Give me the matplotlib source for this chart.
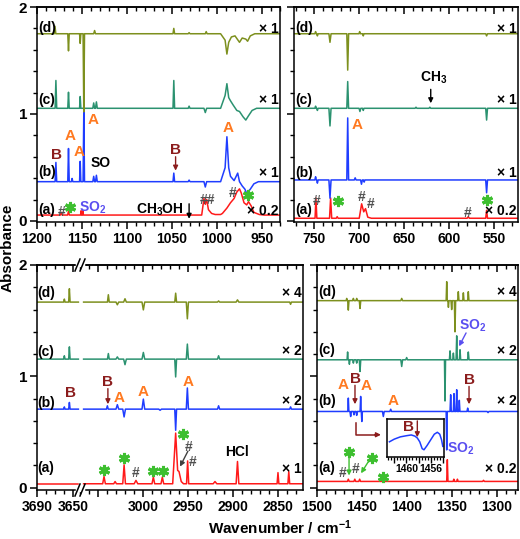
import matplotlib
matplotlib.use("Agg")
import matplotlib.pyplot as plt
from matplotlib.ticker import MultipleLocator, FixedLocator, FuncFormatter
from matplotlib.lines import Line2D

plt.rcParams.update({
    "font.family": ["Liberation Sans", "DejaVu Sans"],
    "font.weight": "bold",
    "font.size": 9,
    "mathtext.fontset": "custom",
    "mathtext.rm": "Liberation Sans:bold",
    "mathtext.it": "Liberation Sans:bold",
    "mathtext.bf": "Liberation Sans:bold",
    "axes.linewidth": 1.1,
})

# ── colours ──────────────────────────────────────────────────
RED, BLUE, TEAL, OLIVE = "#ff1a1a", "#1f3dff", "#2b9270", "#7d901e"
TRACE_COLORS = [RED, BLUE, TEAL, OLIVE]          # (a) (b) (c) (d)
ORANGE, DKRED, GREEN, GRAY, SO2C = "#ff7a21", "#8b1c1c", "#3dbf2f", "#505050", "#5a4ff0"

# ── data: peaks as (wavenumber, height above baseline, half width) ──
# top left, 1200-930 cm-1
tl_base = [0.055, 0.367, 1.053, 1.75]
tl_scale = ["× 0.2", "× 1", "× 1", "× 1"]
tl_a_peaks = [(1173, 0.025, 1.0), (1165, 0.035, 1.0), (1151, 0.04, 0.6),
              (1149, 0.04, 0.6), (1031, 0.01, 1.0)]
tl_a_band = [(1017, 0.0), (1014.5, 0.155), (1013, 0.10), (1011.5, 0.145),
             (1009.5, 0.05), (1006, 0.015), (1002, 0.005), (996, 0.005),
             (994, 0.015), (989, 0.065), (985, 0.115), (981, 0.155),
             (978, 0.215), (975, 0.245), (973, 0.205), (970, 0.115),
             (967, 0.095), (965, 0.125), (962, 0.085), (959, 0.025),
             (953, 0.005), (948, 0.0)]
tl_b_peaks = [(1179, 0.18, 0.9), (1165, 0.31, 0.8), (1161, 0.03, 0.8),
              (1152, 0.19, 0.7), (1148, 0.655, 0.8), (1137, 0.05, 1.0),
              (1134, 0.06, 1.0), (1048, 0.08, 0.9), (1031, 0.015, 1.0),
              (1013, -0.05, 1.5)]
tl_b_band = [(996, 0.0), (991, 0.13), (989, 0.42), (987, 0.13), (985, 0.05),
             (981, 0.01), (977, 0.08), (975, 0.0), (972, -0.04), (969, -0.07),
             (967, -0.11), (963, -0.07), (959, -0.02), (954, 0.0)]
tl_c_peaks = [(1179, 0.26, 0.9), (1165, 0.15, 0.8), (1152, 0.11, 0.7),
              (1137, 0.05, 1.0), (1134, 0.06, 1.0), (1048, 0.26, 0.9),
              (1031, 0.02, 1.0), (1013, -0.04, 1.5)]
tl_c_band = [(996, 0.0), (991, 0.12), (989, 0.23), (987, 0.10), (985, 0.07),
             (982, 0.03), (978, -0.02), (975, -0.03), (971, -0.08),
             (968, -0.11), (965, -0.07), (961, -0.02), (956, 0.0)]
tl_d_peaks = [(1180, 0.07, 0.9), (1165, -0.16, 0.8), (1152, -0.09, 0.7),
              (1148, -0.73, 0.8), (1136, 0.03, 1.0), (1048, 0.05, 0.9),
              (1031, 0.01, 1.0), (1012, 0.02, 1.0)]
tl_d_band = [(996, 0.0), (991, -0.06), (989, -0.19), (987, -0.08),
             (984, -0.03), (980, -0.02), (975, -0.08), (972, -0.04),
             (968, -0.05), (966, -0.07), (963, -0.02), (958, 0.0)]

# top right, 772-523 cm-1
tr_base = [0.025, 0.383, 1.053, 1.75]
tr_scale = ["× 0.2", "× 1", "× 1", "× 1"]
tr_a_peaks = [(747.6, 0.19, 1.0), (731.3, 0.19, 1.2), (724, 0.015, 1.0),
              (578.3, 0.015, 1.2), (557.9, 0.075, 1.0)]
tr_a_band = [(699.5, 0.0), (696.8, 0.135), (694.5, 0.06), (692.5, 0.09),
             (690, 0.01), (686, 0.0)]
tr_b_peaks = [(748, 0.03, 0.8), (746, -0.03, 0.8), (732, -0.17, 1.2),
              (712.3, 0.58, 1.0), (704, 0.02, 1.0), (697, -0.04, 1.0),
              (694, -0.02, 0.8), (557.9, -0.12, 1.0)]
tr_c_peaks = [(748, 0.02, 0.8), (746, -0.02, 0.8), (732, -0.165, 1.2),
              (712.3, 0.25, 1.0), (698.7, -0.03, 1.0), (695, -0.02, 0.8),
              (636.4, 0.01, 1.0), (621, 0.01, 1.0), (557.9, -0.11, 1.0)]
tr_d_peaks = [(748, 0.02, 0.8), (746, -0.02, 0.8), (732, -0.08, 1.2),
              (712.3, -0.34, 1.0), (699, 0.02, 0.8), (695, -0.02, 0.8),
              (557.9, -0.02, 1.0)]

# bottom left, broken axis 3690-3642 | 3070-2822 cm-1
bl_base = [0.036, 0.706, 1.155, 1.667]
bl_scale = ["× 1", "× 2", "× 2", "× 4"]
bl_l_a = []
bl_l_b = [(3659.6, 0.02, 0.8), (3654, 0.06, 0.8)]
bl_l_c = [(3659.6, 0.03, 0.8), (3654, 0.11, 0.8)]
bl_l_d = [(3659.6, 0.027, 0.8), (3654, 0.12, 0.8)]
bl_r_a = [(3043.3, 0.065, 1.5), (3031, 0.02, 1.5), (3021, 0.17, 1.5),
          (3007.8, 0.03, 2.0), (2988.5, 0.06, 1.5), (2978.5, 0.06, 1.5),
          (2950.4, 0.205, 1.2), (2920, 0.02, 2.0), (2895, 0.2, 1.5),
          (2850, 0.10, 1.0), (2838, 0.11, 1.0)]
bl_r_a_band = [(2967, 0.0), (2963.7, 0.455), (2961.5, 0.12), (2960, 0.11),
               (2957.5, 0.02), (2955, 0.0)]
bl_r_b = [(3039.6, 0.03, 1.0), (3028.5, 0.04, 1.5), (3021, -0.07, 1.5),
          (2999.6, 0.09, 1.5), (2981, -0.01, 1.5), (2963.7, -0.19, 1.0),
          (2950.7, 0.19, 1.2), (2916, 0.03, 1.2), (2836, 0.02, 1.0)]
bl_r_c = [(3038.5, 0.05, 1.0), (3028.5, 0.02, 1.5), (3020, -0.05, 1.5),
          (2999.6, 0.06, 1.5), (2963.7, -0.16, 1.0), (2950.7, 0.135, 1.2),
          (2916, 0.03, 1.2)]
bl_r_d = [(3038.5, 0.066, 1.0), (3028.5, -0.024, 1.5), (3020, 0.03, 1.5),
          (2999.6, -0.07, 1.5), (2963.7, 0.08, 1.0), (2950.7, -0.15, 1.2),
          (2916, 0.01, 1.2), (2895, 0.02, 1.5), (2836, -0.02, 1.0)]

# bottom right, 1500-1277 cm-1
br_base = [0.057, 0.685, 1.149, 1.68]
br_scale = ["× 0.2", "× 2", "× 2", "× 4"]
br_a = [(1465.2, 0.02, 1.0), (1458, 0.02, 1.0), (1452.6, 0.02, 1.0),
        (1427.4, 0.03, 1.0), (1355.2, 0.195, 0.7), (1348, 0.02, 0.8),
        (1344, 0.02, 0.8), (1315, 0.01, 1.0)]
br_b = [(1465.2, 0.12, 0.6), (1462.6, -0.045, 0.8), (1458.9, -0.03, 0.8),
        (1455.9, -0.035, 0.8), (1451.5, 0.135, 0.6), (1450.2, -0.09, 0.6),
        (1426.3, -0.045, 1.0), (1418.1, 0.02, 1.0), (1355.9, -0.345, 0.6),
        (1351.5, 0.15, 0.7), (1347.8, 0.16, 0.7), (1344.8, 0.195, 0.7),
        (1341.9, 0.10, 0.7), (1332.6, 0.03, 0.8), (1310, -0.01, 1.0)]
br_c = [(1466, 0.07, 0.6), (1464, -0.04, 0.6), (1459.6, -0.03, 0.8),
        (1455.9, -0.03, 0.8), (1452.2, -0.105, 0.8), (1405.9, -0.06, 1.0),
        (1400.4, 0.02, 1.0), (1357.8, -0.37, 0.6), (1352.2, 0.08, 0.7),
        (1348.5, 0.06, 0.7), (1344.8, 0.215, 0.7), (1341.1, 0.09, 0.7),
        (1331.9, 0.07, 0.8)]
br_d = [(1467, 0.02, 0.6), (1465.2, -0.085, 0.7), (1459.6, 0.02, 0.8),
        (1455.9, 0.02, 0.8), (1452.2, -0.07, 0.8), (1405.9, 0.02, 1.0),
        (1355.9, 0.17, 0.6), (1354, -0.06, 0.6), (1350.4, -0.08, 0.7),
        (1346.7, -0.28, 0.7), (1343, 0.08, 0.7), (1337.4, 0.07, 0.7),
        (1331.9, 0.08, 0.7)]

# inset: trace (b) around 1458 cm-1 (relative units)
inset_w = [1462.8, 1462.0, 1461.0, 1460.0, 1459.2, 1458.6, 1458.2, 1457.8,
           1457.4, 1457.1, 1456.6, 1456.0, 1455.4, 1454.9, 1454.5, 1454.2,
           1454.0]
inset_v = [0.40, 0.47, 0.53, 0.56, 0.58, 0.55, 0.50, 0.40, 0.22, 0.19,
           0.30, 0.45, 0.60, 0.65, 0.60, 0.45, 0.28]

W, H = 520, 539


def trace(base, peaks, band, hi, lo):
    """Polyline vertices: baseline, peak tips and extra band points."""
    pts = [(hi, 0.0), (lo, 0.0)]
    for w, h, hw in peaks:
        pts += [(w + hw, 0.0), (w, h), (w - hw, 0.0)]
    pts += list(band)
    pts.sort(key=lambda p: -p[0])
    return [p[0] for p in pts], [base + p[1] for p in pts]


def box(x0, y0, x1, y1):
    """Axes rectangle from pixel corners (top-left origin)."""
    return [x0 / W, 1 - y1 / H, (x1 - x0) / W, (y1 - y0) / H]


def px(x, y):
    return x / W, 1 - y / H


def style(ax, major, minor, ylim, ylabels=True, yaxis=True):
    ax.set_ylim(*ylim)
    ax.xaxis.set_major_locator(major)
    ax.xaxis.set_minor_locator(minor)
    ax.tick_params(axis="x", which="both", direction="out", top=False,
                   labelsize=10, pad=2)
    ax.tick_params(which="major", length=5, width=1.1)
    ax.tick_params(which="minor", length=3, width=1.0)
    ax.yaxis.set_major_locator(MultipleLocator(1))
    ax.yaxis.set_minor_locator(MultipleLocator(0.2))
    ax.tick_params(axis="y", which="both", direction="out", right=False,
                   left=yaxis, labelleft=ylabels, labelsize=11, pad=2)
    top = ax.secondary_xaxis("top")
    top.xaxis.set_major_locator(major)
    top.xaxis.set_minor_locator(minor)
    top.tick_params(axis="x", which="both", direction="in", labeltop=False)
    top.tick_params(which="major", length=5, width=1.1)
    top.tick_params(which="minor", length=3, width=1.0)
    return top


def side_labels(ax_left, ax_right, ys_left, ys_right, scales):
    for i, (yl, yr) in enumerate(zip(ys_left, ys_right)):
        ax_left.text(0.006, yl, "(%s)" % "abcd"[i], transform=ax_left.get_yaxis_transform(),
                     ha="left", va="center", fontsize=10)
        ax_right.text(0.993, yr, scales[i], transform=ax_right.get_yaxis_transform(),
                      ha="right", va="center", fontsize=10)


def tag(ax, x, y, s, color, size=11):
    ax.text(x, y, s, color=color, ha="center", va="center", fontsize=size)


def star(ax, x, y):
    ax.plot([x], [y], ls="none", marker=(6, 2, 0), ms=8, mew=2.2,
            color=GREEN, clip_on=False, zorder=5)


def arrow(ax, x0, y0, x1, y1, color, lw=1.0):
    ax.annotate("", xy=(x1, y1), xytext=(x0, y0),
                arrowprops=dict(arrowstyle="-|>", color=color, lw=lw,
                                mutation_scale=7, shrinkA=0, shrinkB=0))


fig = plt.figure(figsize=(W / 100, H / 100), dpi=100)

# ── top left ────────────────────────────────────────────────
ax = fig.add_axes(box(37, 7, 280, 222))
ax.set_xlim(1200, 930)
style(ax, MultipleLocator(50), MultipleLocator(10), (-0.01, 2.0))
tl_peaks = [tl_a_peaks, tl_b_peaks, tl_c_peaks, tl_d_peaks]
tl_bands = [tl_a_band, tl_b_band, tl_c_band, tl_d_band]
for i in range(4):
    xs, ys = trace(tl_base[i], tl_peaks[i], tl_bands[i], 1200, 930)
    ax.plot(xs, ys, color=TRACE_COLORS[i], lw=1.1)
side_labels(ax, ax, [0.10, 0.46, 1.13, 1.80], [0.09, 0.45, 1.13, 1.79], tl_scale)
tag(ax, 1137.5, 0.94, "A", ORANGE)
tag(ax, 1163, 0.79, "A", ORANGE)
tag(ax, 1153, 0.64, "A", ORANGE)
tag(ax, 988, 0.87, "A", ORANGE)
tag(ax, 1178, 0.62, "B", DKRED)
tag(ax, 1046, 0.66, "B", DKRED)
arrow(ax, 1046, 0.60, 1046, 0.47, DKRED)
tag(ax, 1129, 0.54, "SO", "black", 10)
tag(ax, 1173, 0.08, "#", GRAY, 10)
star(ax, 1163, 0.13)
tag(ax, 1138, 0.12, "SO$_2$", SO2C, 10)
tag(ax, 1064, 0.10, "CH$_3$OH", "black", 10)
arrow(ax, 1031, 0.16, 1031, 0.02, "black")
tag(ax, 1010, 0.20, "##", GRAY, 10)
tag(ax, 983, 0.26, "#", GRAY, 10)
star(ax, 966, 0.24)

# ── top right ───────────────────────────────────────────────
ax = fig.add_axes(box(294, 7, 518, 222))
ax.set_xlim(772, 523)
style(ax, MultipleLocator(50), MultipleLocator(10), (-0.01, 2.0), ylabels=False)
tr_peaks = [tr_a_peaks, tr_b_peaks, tr_c_peaks, tr_d_peaks]
tr_bands = [tr_a_band, [], [], []]
for i in range(4):
    xs, ys = trace(tr_base[i], tr_peaks[i], tr_bands[i], 772, 523)
    ax.plot(xs, ys, color=TRACE_COLORS[i], lw=1.1)
side_labels(ax, ax, [0.10, 0.45, 1.13, 1.80], [0.09, 0.45, 1.13, 1.79], tr_scale)
tag(ax, 702, 0.90, "A", ORANGE)
tag(ax, 617, 1.34, "CH$_3$", "black", 10)
arrow(ax, 620, 1.23, 620, 1.10, "black")
tag(ax, 746.4, 0.19, "#", GRAY, 10)
star(ax, 723, 0.19)
tag(ax, 696.5, 0.22, "#", GRAY, 10)
tag(ax, 686.5, 0.16, "#", GRAY, 10)
tag(ax, 578.7, 0.07, "#", GRAY, 10)
star(ax, 557.6, 0.20)

# ── bottom left (broken axis) ───────────────────────────────
ylim_b = (-0.02, 2.0)
ax1 = fig.add_axes(box(37, 265, 80, 490))
ax1.set_xlim(3690, 3642.2)
style(ax1, FixedLocator([3690, 3650]), FixedLocator([3680, 3670, 3660]), ylim_b)
ax1.spines["right"].set_visible(False)
ax2 = fig.add_axes(box(80, 265, 303, 490))
ax2.set_xlim(3070, 2822.2)
style(ax2, MultipleLocator(50), MultipleLocator(10), ylim_b, ylabels=False, yaxis=False)
ax2.xaxis.set_major_formatter(FuncFormatter(lambda v, p: "" if v > 3040 else "%d" % v))
ax2.spines["left"].set_visible(False)
bl_left = [bl_l_a, bl_l_b, bl_l_c, bl_l_d]
bl_right = [bl_r_a, bl_r_b, bl_r_c, bl_r_d]
bl_bands = [bl_r_a_band, [], [], []]
for i in range(4):
    xs, ys = trace(bl_base[i], bl_left[i], [], 3690, 3644)
    ax1.plot(xs, ys, color=TRACE_COLORS[i], lw=1.1)
    xs, ys = trace(bl_base[i], bl_right[i], bl_bands[i], 3066, 2822.2)
    ax2.plot(xs, ys, color=TRACE_COLORS[i], lw=1.1)
side_labels(ax1, ax2, [0.18, 0.76, 1.22, 1.75], [0.17, 0.78, 1.23, 1.75], bl_scale)
tag(ax1, 3653.3, 0.85, "B", DKRED)
tag(ax2, 3039, 0.95, "B", DKRED)
arrow(ax2, 3039, 0.89, 3039, 0.75, DKRED)
tag(ax2, 3026.7, 0.81, "A", ORANGE)
tag(ax2, 3000, 0.86, "A", ORANGE)
tag(ax2, 2950, 0.95, "A", ORANGE)
star(ax2, 3043.3, 0.16)
star(ax2, 3021, 0.27)
star(ax2, 2988.9, 0.15)
star(ax2, 2977.8, 0.15)
star(ax2, 2955.6, 0.48)
tag(ax2, 3007.8, 0.13, "#", GRAY, 10)
tag(ax2, 2948.9, 0.37, "#", GRAY, 10)
tag(ax2, 2944.4, 0.23, "#", GRAY, 10)
arrow(ax2, 2950, 0.33, 2958.9, 0.19, "#404040")
tag(ax2, 2895.6, 0.32, "HCl", "black", 10)

# axis break marks
for yb in (265, 490):
    fig.add_artist(Line2D([px(77, yb)[0], px(83, yb)[0]], [px(77, yb)[1]] * 2,
                          color="white", lw=2.5, transform=fig.transFigure))
    for xb in (77.5, 82.5):
        (xa, ya), (xz, yz) = px(xb - 2.5, yb + 6), px(xb + 2.5, yb - 6)
        fig.add_artist(Line2D([xa, xz], [ya, yz], color="black", lw=1.1,
                              transform=fig.transFigure))

# ── bottom right ────────────────────────────────────────────
ax = fig.add_axes(box(317, 265, 518, 490))
ax.set_xlim(1500, 1276.7)
style(ax, MultipleLocator(50), MultipleLocator(10), ylim_b, ylabels=False)
br_peaks = [br_a, br_b, br_c, br_d]
for i in range(4):
    xs, ys = trace(br_base[i], br_peaks[i], [], 1500, 1276.7)
    ax.plot(xs, ys, color=TRACE_COLORS[i], lw=1.1)
side_labels(ax, ax, [0.18, 0.78, 1.24, 1.76], [0.17, 0.78, 1.23, 1.76], br_scale)
tag(ax, 1471, 0.92, "A", ORANGE)
tag(ax, 1457.5, 0.98, "B", DKRED)
arrow(ax, 1457.8, 0.92, 1457.8, 0.75, DKRED)
tag(ax, 1445.5, 0.91, "A", ORANGE)
tag(ax, 1415.6, 0.78, "A", ORANGE)
tag(ax, 1331.1, 0.97, "B", DKRED)
arrow(ax, 1331.1, 0.91, 1331.1, 0.75, DKRED)
tag(ax, 1327.5, 1.45, "SO$_2$", SO2C, 10)
arrow(ax, 1334.4, 1.39, 1342.2, 1.27, SO2C)
tag(ax, 1340, 0.35, "SO$_2$", SO2C, 10)
ax.plot([1456.7, 1456.7, 1434], [0.58, 0.476, 0.476], color=DKRED, lw=1.1)
arrow(ax, 1436, 0.476, 1429, 0.476, DKRED)
star(ax, 1464.4, 0.32)
arrow(ax, 1464.4, 0.28, 1464.4, 0.11, GREEN)
star(ax, 1438.9, 0.27)
arrow(ax, 1443.3, 0.23, 1451.1, 0.13, GREEN)
star(ax, 1426.7, 0.10)
tag(ax, 1471.1, 0.13, "#", GRAY, 10)
tag(ax, 1456.7, 0.17, "#", GRAY, 10)

# inset
ins = fig.add_axes(box(387, 419, 444, 457))
ins.plot(inset_w, inset_v, color=BLUE, lw=1.1)
ins.set_xlim(1463.2, 1453.8)
ins.set_ylim(0, 1)
ins.xaxis.set_major_locator(FixedLocator([1462, 1460, 1458, 1456, 1454]))
ins.xaxis.set_major_formatter(FuncFormatter(lambda v, p: "%d" % v if v in (1460, 1456) else ""))
ins.xaxis.set_minor_locator(MultipleLocator(0.5))
ins.tick_params(axis="x", which="both", direction="out", labelsize=7.5, pad=1)
ins.tick_params(which="major", length=4, width=1.0)
ins.tick_params(which="minor", length=2.5, width=0.9)
ins.tick_params(axis="y", left=False, labelleft=False)
tag(ins, 1459.6, 0.78, "B", DKRED)
arrow(ins, 1458.2, 0.95, 1458.2, 0.52, DKRED)

fig.text(*px(8, 248), "Absorbance", rotation=90, ha="center", va="center", fontsize=11)
fig.text(*px(280, 528), "Wavenumber / cm$^{-1}$", ha="center", va="center", fontsize=11)

fig.savefig("out.png", dpi=100)
